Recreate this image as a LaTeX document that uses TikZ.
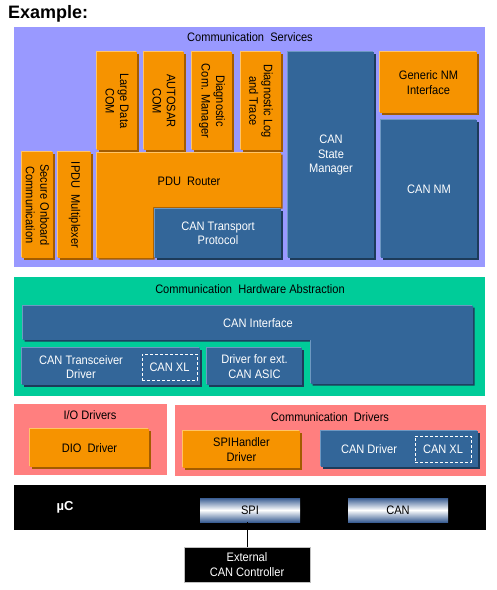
\documentclass[tikz,border=0pt]{standalone}
\usepackage{fontspec}
\setmainfont{Liberation Sans}[FakeStretch=0.9]
\newfontfamily\plainsans{Liberation Sans}
\definecolor{lav}{HTML}{9999FF}
\definecolor{grn}{HTML}{00CC99}
\definecolor{pnk}{HTML}{FF7F7F}
\definecolor{org}{HTML}{F69300}
\definecolor{orgL}{HTML}{FFC466}
\definecolor{orgD}{HTML}{A35C00}
\definecolor{blu}{HTML}{336699}
\definecolor{bluL}{HTML}{6E98C2}
\definecolor{bluD}{HTML}{1D3B5A}
\definecolor{gbl}{HTML}{3B5E93}
\tikzset{
  txt/.style={font=\fontsize{12.3}{14.4}\selectfont, align=center, inner sep=0pt},
  bev/.style n args={3}{fill=#1,
     preaction={fill=#3, transform canvas={xshift=1.5pt,yshift=-1.5pt}},
     preaction={fill=#2, transform canvas={xshift=-1pt,yshift=1pt}}},
  obox/.style={txt, bev={org}{orgL}{orgD}, text=black},
  bbox/.style={txt, bev={blu}{bluL}{bluD}, text=white},
  area/.style={fill=#1, inner sep=0pt},
  xlbox/.style={draw=white, dash pattern=on 3pt off 2pt, line width=0.9pt, txt, text=white},
  vtxt/.style={txt, rotate=-90},
  gbox/.style={txt, top color=gbl, bottom color=gbl, middle color=white, text=black},
}
\begin{document}
\begin{tikzpicture}[x=1pt,y=-1pt]
\useasboundingbox (0,0) rectangle (497,590);
\node[anchor=west, font=\plainsans\bfseries\fontsize{18}{20}\selectfont, inner sep=0pt] (title) at (8,14) {Example:};

% Communication Services
\node[area=lav, minimum width=471pt, minimum height=240pt, anchor=north west] (cs) at (14,27) {};
\node[txt] (cst) at (250,37) {Communication\ \ Services};

\node[obox, minimum width=40pt, minimum height=98pt] (ldc) at (117,101) {};
\node[vtxt] (ldct) at (ldc.center) {Large Data\\COM};
\node[obox, minimum width=40pt, minimum height=98pt] (acom) at (164,101) {};
\node[vtxt] (acomt) at (acom.center) {AUTOSAR\\COM};
\node[obox, minimum width=40pt, minimum height=98pt] (dcm) at (212,101) {};
\node[vtxt] (dcmt) at (dcm.center) {Diagnostic\\Com. Manager};
\node[obox, minimum width=40pt, minimum height=98pt] (dlt) at (261,101) {};
\node[vtxt] (dltt) at (dlt.center) {Diagnostic Log\\and Trace};

\node[bbox, minimum width=86pt, minimum height=206pt] (cansm) at (331,155) {CAN\\State\\Manager};
\node[obox, minimum width=97pt, minimum height=61pt] (gnm) at (428.5,82.5) {Generic NM\\Interface};
\node[bbox, minimum width=96pt, minimum height=138pt] (cannm) at (429,189) {CAN NM};

\node[obox, minimum width=31pt, minimum height=106pt] (secoc) at (37.5,205) {};
\node[vtxt] (secoct) at (secoc.center) {Secure Onboard\\Communication};
\node[obox, minimum width=33pt, minimum height=106pt] (ipdum) at (74.5,205) {};
\node[vtxt] (ipdumt) at (ipdum.center) {IPDU\ \ Multiplexer};

\path[bev={org}{orgL}{orgD}] (97,153) -- (281,153) -- (281,207) -- (153,207) -- (153,258) -- (97,258) -- cycle;
\node[txt] (pdur) at (189,181) {PDU\ \ Router};
\node[bbox, minimum width=126pt, minimum height=49pt] (cantp) at (218,233.5) {CAN Transport\\Protocol};

% Communication Hardware Abstraction
\node[area=grn, minimum width=471pt, minimum height=119pt, anchor=north west] (cha) at (14,277) {};
\node[txt] (chat) at (250,289) {Communication\ \ Hardware Abstraction};
\path[bev={blu}{bluL}{bluD}] (23,306) -- (473,306) -- (473,384) -- (311,384) -- (311,340) -- (23,340) -- cycle;
\node[txt, text=white] (canif) at (258,323) {CAN Interface};
\node[bbox, minimum width=178pt, minimum height=37pt] (cantrcv) at (111,366.5) {};
\node[txt, text=white] (cantrcvt) at (81,367) {CAN Transceiver\\Driver};
\node[xlbox, minimum width=55pt, minimum height=26pt] (xl1) at (169.5,367) {CAN XL};
\node[bbox, minimum width=95pt, minimum height=37pt] (asic) at (254.5,366.5) {Driver for ext.\\CAN ASIC};

% Drivers
\node[area=pnk, minimum width=153pt, minimum height=71pt, anchor=north west] (iod) at (14,404) {};
\node[txt] (iodt) at (90,415) {I/O Drivers};
\node[obox, minimum width=119pt, minimum height=38pt] (dio) at (89.5,448) {DIO\ \ Driver};

\node[area=pnk, minimum width=311pt, minimum height=71pt, anchor=north west] (cd) at (175,405) {};
\node[txt] (cdt) at (330,417) {Communication\ \ Drivers};
\node[obox, minimum width=117pt, minimum height=37pt] (spih) at (241.5,449.5) {SPIHandler\\Driver};
\node[bbox, minimum width=157pt, minimum height=36pt] (candrv) at (399.5,449) {};
\node[txt, text=white] (candrvt) at (369,449) {CAN Driver};
\node[xlbox, minimum width=56pt, minimum height=26pt] (xl2) at (443,449) {CAN XL};

% uC
\node[area=black, minimum width=472pt, minimum height=45pt, anchor=north west] (uc) at (14,485) {};
\node[font=\plainsans\bfseries\fontsize{13}{14}\selectfont, text=white, inner sep=0pt] (uct) at (65,507) {µC};
\node[gbox, minimum width=100pt, minimum height=24pt] (spi) at (250,510) {SPI};
\node[gbox, minimum width=100pt, minimum height=24pt] (can) at (398,510) {CAN};
\node[txt, fill=black, draw=gray!50, line width=0.6pt, text=white, minimum width=126pt, minimum height=35pt] (ext) at (247,564.5) {External\\CAN Controller};
\draw[line width=0.9pt] (ext.north) -- (ext.north |- spi.south);
\end{tikzpicture}
\end{document}
